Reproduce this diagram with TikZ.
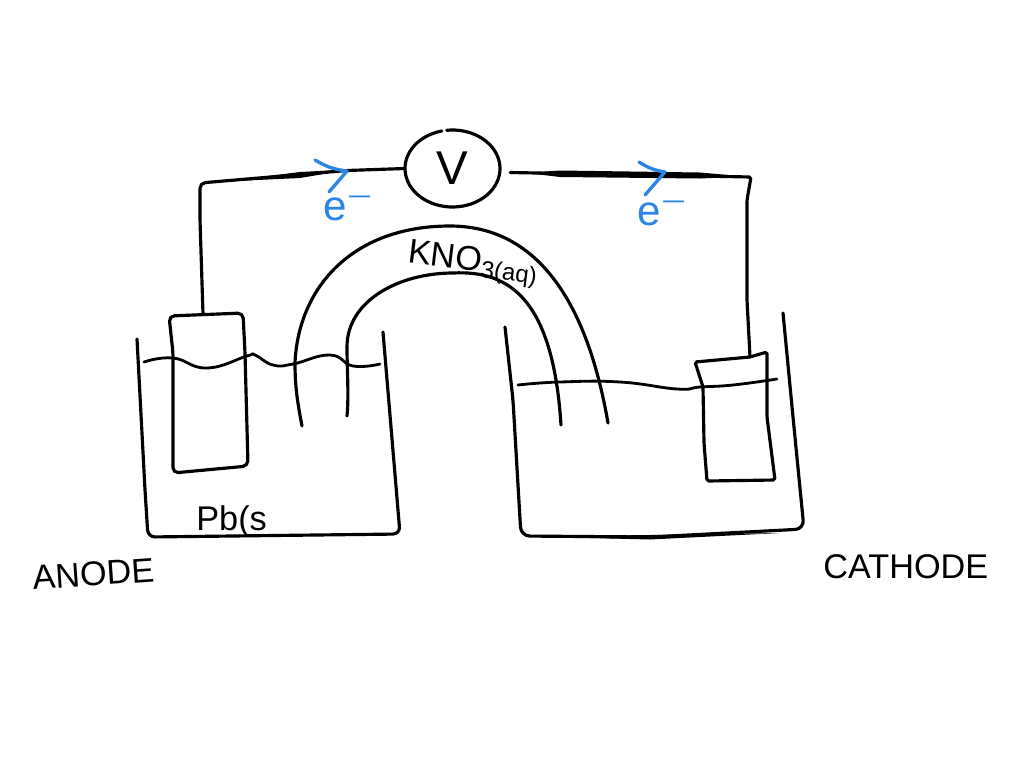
\documentclass[tikz,border=0pt]{standalone}
\usepackage{fontspec}
\setmainfont{Liberation Sans}
\definecolor{eblue}{HTML}{2B84E6}
\usetikzlibrary{shapes.geometric}
\begin{document}
\begin{tikzpicture}[x=0.02cm,y=-0.02cm,
  ink/.style={black,line width=1.8pt,line cap=round,line join=round},
  wave/.style={ink,line width=1.6pt},
  echev/.style={eblue,line width=1.9pt,line cap=round,line join=round},
  meter/.style={ellipse,minimum width=53.9pt,minimum height=43.6pt,inner sep=0pt,
    font=\fontsize{27}{27}\selectfont},
  hand/.style={inner sep=0pt,font=\fontsize{19.5}{20}\selectfont},
  echarge/.style={inner sep=0pt,text=eblue,font=\fontsize{24}{24}\selectfont\boldmath}]
  \useasboundingbox (0,0) rectangle (1024,768);
  \node[meter] (volt) at (452.5,168.5) {\raisebox{-2pt}{V}};
  \coordinate (anodetop) at (203,314);
  \coordinate (cathodetop) at (750,357);
  \coordinate (leftcorner) at (200,183);
  \coordinate (rightcorner) at (751,177);
  \draw[ink] (volt.center) ++(103:47.5 and -38.5) arc[start angle=103,end angle=457,x radius=47.5,y radius=-38.5];
  \draw[ink,rounded corners=3pt] (volt.west) -- (347,170.5) -- (leftcorner) -- (200,220) -- (anodetop);
  \draw[ink,rounded corners=1pt] ([shift={(10,4)}]volt.east) -- (rightcorner) -- (747,200) -- (747,300) -- (cathodetop);
  \fill (225,181.5) -- (300,172) -- (350,169.5) -- (300,178) -- cycle;
  \fill (525,172.8) -- (560,170.5) -- (700,172.5) -- (745,176.5) -- (700,178.5) -- (560,177) -- cycle;
  \fill (530,536.5) -- (650,535) -- (780,533) -- (650,539.5) -- cycle;
  % beakers
  \draw[ink,rounded corners=4pt] (137,339) -- (145,490) -- (148,537) -- (400,534) -- (383,332);
  \draw[ink,rounded corners=5pt] (505,327) -- (513,400) -- (521,536) -- (650,537) -- (804,529) -- (793,417) -- (783,313);
  % electrodes
  \draw[ink,rounded corners=3pt] (173,473) -- (173,353) -- (169,316) -- (243,313) -- (245,353) -- (248,466) -- cycle;
  \draw[ink,rounded corners=1pt] (707,481) -- (704,443) -- (703,387) -- (695,362) -- (750,357) -- (767,352) -- (767,417) -- (775,480) -- cycle;
  % salt bridge
  \draw[ink] (302,426) .. controls (297,400) and (295,385) .. (295,363) .. controls (298,290) and (350,226) .. (450,226) .. controls (530,226) and (585,290) .. (608,423);
  \draw[ink] (347,416) .. controls (349,395) and (347,370) .. (347,347) .. controls (347,300) and (400,273) .. (453,273) .. controls (510,270) and (553,300) .. (561,425);
  % solution levels
  \draw[wave] plot[smooth,tension=0.8] coordinates {(144,362) (173,358) (207,368) (247,356) (255,355) (273,365) (293,364) (330,355) (353,366) (380,364)};
  \draw[wave] plot[smooth,tension=0.8] coordinates {(518,385) (560,382) (620,382) (677,389) (700,387) (733,385) (777,379)};
  % electron flow
  \draw[echev] (315,160) to[bend right=12] (347,171) -- (329,192);
  \draw[echev] (639,162) to[bend right=12] (665,172) -- (645,195);
  \node[echarge] (eleft) at (349,203) {e$^{-}$};
  \node[echarge] (eright) at (663,208) {e$^{-}$};
  \node[hand,rotate=-7] (bridge) at (473,264) {KNO\textsubscript{3(aq)}};
  \node[hand,anchor=base west] (lead) at (196,530) {Pb(s};
  \node[hand,anchor=base west,rotate=4] (anode) at (33,590) {ANODE};
  \node[hand,anchor=base west] (cathode) at (823,578) {CATHODE};
\end{tikzpicture}
\end{document}
